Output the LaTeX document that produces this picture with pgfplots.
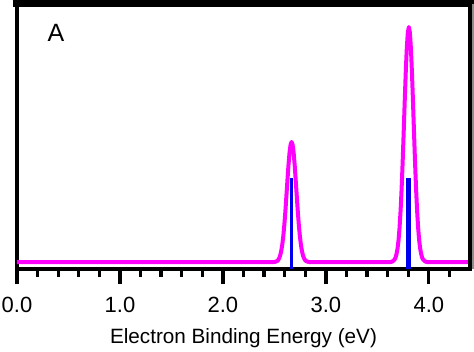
\documentclass[border=0pt]{standalone}
\usepackage{pgfplots}
\pgfplotsset{compat=1.18}
\usepackage{fontspec}
\setmainfont{Liberation Sans}
\definecolor{mag}{RGB}{255,0,255}
\definecolor{stick}{RGB}{0,0,240}
\pgfplotstableread{
x y
0.00 0.026
2.40 0.026
2.487 0.026
2.507 0.027
2.527 0.030
2.537 0.034
2.547 0.041
2.557 0.052
2.567 0.069
2.577 0.093
2.587 0.126
2.597 0.168
2.607 0.219
2.617 0.277
2.627 0.336
2.637 0.392
2.647 0.438
2.657 0.468
2.667 0.479
2.677 0.468
2.687 0.438
2.697 0.392
2.707 0.336
2.717 0.277
2.727 0.219
2.737 0.168
2.747 0.126
2.757 0.093
2.767 0.069
2.777 0.052
2.787 0.041
2.797 0.034
2.807 0.030
2.827 0.027
2.847 0.026
3.626 0.026
3.646 0.028
3.666 0.035
3.676 0.042
3.686 0.056
3.696 0.077
3.706 0.109
3.716 0.157
3.726 0.221
3.736 0.304
3.746 0.404
3.756 0.517
3.766 0.633
3.776 0.742
3.786 0.832
3.796 0.891
3.806 0.912
3.816 0.891
3.826 0.832
3.836 0.742
3.846 0.633
3.856 0.517
3.866 0.404
3.876 0.304
3.886 0.221
3.896 0.157
3.906 0.109
3.916 0.077
3.926 0.056
3.936 0.042
3.946 0.035
3.966 0.028
3.986 0.026
4.40 0.026
}\spectrum
\begin{document}
\begin{tikzpicture}
\begin{axis}[
  name=ax,
  at={(0,0)}, anchor=south west,
  scale only axis,
  width=453pt, height=265.35pt,
  xmin=0, xmax=4.4, ymin=0, ymax=1,
  axis x line*=bottom, axis y line*=left,
  axis line style={line width=3.3pt, line cap=rect},
  ytick=\empty,
  xtick={0,1,2,3,4},
  minor xtick={0.2,0.4,0.6,0.8,1.2,1.4,1.6,1.8,2.2,2.4,2.6,2.8,3.2,3.4,3.6,3.8,4.2},
  tick align=outside,
  major tick length=15.3pt, minor tick length=7.7pt,
  every tick/.style={black, line width=3.3pt},
  /pgf/number format/assume math mode=true,
  xticklabel style={/pgf/number format/.cd, fixed, fixed zerofill, precision=1, /tikz/.cd,
    font=\fontsize{22}{22}\selectfont, anchor=base, yshift=-27.7pt},
  xlabel={Electron Binding Energy (eV)},
  xlabel style={font=\fontsize{20.7}{22}\selectfont, at={(axis description cs:0.5,0)}, anchor=base, yshift=-74pt},
  clip=false,
]
\addplot[mag, line width=4pt, line join=round] table[x=x, y=y] {\spectrum};
\addplot[stick, ycomb, line width=3.7pt, mark=none] coordinates {(2.667,0.343)};
\addplot[stick, ycomb, line width=5.3pt, mark=none] coordinates {(3.806,0.343)};
\node[anchor=base west, inner sep=0, font=\fontsize{25}{25}\selectfont] at (rel axis cs:0.067,0.857) {A};
\end{axis}
\draw[line width=7.3pt] ([xshift=-4pt]ax.north west) -- ([xshift=6pt]ax.north east);
\draw[black!45, line width=2.4pt] ([xshift=2.9pt]ax.north east) -- ([xshift=2.9pt]ax.south east);
\draw[line width=3.3pt] (ax.north east) -- ([yshift=-1.65pt]ax.south east);
\pgfresetboundingbox
\path[use as bounding box] (-17pt,-82pt) rectangle (457pt,269pt);
\end{tikzpicture}
\end{document}
